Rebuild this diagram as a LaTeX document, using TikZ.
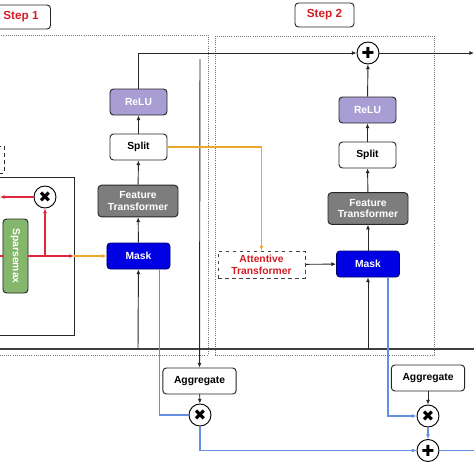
\documentclass[tikz,border=0pt]{standalone}
\usepackage{fontspec}
\setmainfont{Liberation Sans}
\newfontfamily\symfont{DejaVu Sans}
\usetikzlibrary{arrows.meta}

\definecolor{reluviolet}{RGB}{168,158,212}
\definecolor{ftgray}{RGB}{125,125,125}
\definecolor{maskblue}{RGB}{0,0,228}
\definecolor{sparsegreen}{RGB}{132,182,108}
\definecolor{stepred}{RGB}{212,28,36}
\definecolor{attorange}{RGB}{236,168,40}
\definecolor{aggblue}{RGB}{100,142,224}
\definecolor{sparsered}{RGB}{222,40,60}

\begin{document}
\begin{tikzpicture}[x=0.03cm,y=-0.03cm]

\tikzset{
  block/.style={draw=black!85,line width=0.8pt,rounded corners=3pt,align=center,
    inner sep=1pt,font=\fontsize{8.8}{10}\selectfont\bfseries},
  relubox/.style={block,fill=reluviolet,text=white,minimum width=1.71cm,minimum height=0.78cm},
  splitbox/.style={block,fill=white,minimum width=1.71cm,minimum height=0.78cm},
  ftbox/.style={block,fill=ftgray,text=white,minimum width=2.4cm,minimum height=0.95cm},
  maskbox/.style={block,draw=blue!40!black,fill=maskblue,text=white,minimum width=1.89cm,minimum height=0.78cm},
  aggbox/.style={block,fill=white,minimum width=2.2cm,minimum height=0.78cm},
  stepbox/.style={block,text=stepred,font=\fontsize{10}{12}\selectfont\bfseries,minimum width=1.77cm,minimum height=0.72cm},
  attbox/.style={draw=black!75,line width=0.8pt,dashed,align=center,inner sep=1pt,text=stepred,
    font=\fontsize{8.8}{10}\selectfont\bfseries,minimum width=2.61cm,minimum height=0.81cm},
  sparsebox/.style={block,fill=sparsegreen,text=white,rotate=-90,minimum width=2.22cm,minimum height=0.75cm},
  opnode/.style={draw,circle,line width=0.8pt,fill=white,minimum size=0.66cm,inner sep=0pt,
    font=\symfont\fontsize{13}{13}\selectfont},
  stepframe/.style={draw=black!55,densely dotted,line width=0.8pt},
  line/.style={draw=black!85,line width=0.8pt},
  arr/.style={line,-{Latex[length=4pt,width=3.5pt]}},
  colline/.style={line width=1pt},
}

\clip (0,0) rectangle (474,474);

% step frames
\draw[stepframe] (-5,35) -- (208,35) -- (208,355) -- (-5,355);
\draw[stepframe] (215,36) rectangle (434,355);

\node[stepbox] (step1) at (21,17) {Step 1};
\node[stepbox] (step2) at (324.5,15) {Step 2};

% step 1
\node[relubox] (relu1) at (138.5,102) {ReLU};
\node[splitbox] (split1) at (138.5,147) {Split};
\node[ftbox] (ft1) at (138,201) {Feature\\Transformer};
\node[maskbox] (mask1) at (138.5,256) {Mask};

% step 2
\node[opnode] (plus1) at (368,53) {✚};
\node[relubox] (relu2) at (367.5,110) {ReLU};
\node[splitbox] (split2) at (367.5,155) {Split};
\node[ftbox] (ft2) at (368,208.5) {Feature\\Transformer};
\node[maskbox] (mask2) at (368,264) {Mask};
\node[attbox] (att2) at (261.5,264.5) {Attentive\\Transformer};

% aggregation
\node[aggbox] (agg1) at (199.5,381) {Aggregate};
\node[aggbox] (agg2) at (428,378) {Aggregate};
\node[opnode] (mult1) at (200,415) {✖};
\node[opnode] (mult2) at (428,416) {✖};
\node[opnode] (plus2) at (428,450.5) {✚};

% attentive transformer of step 1
\draw[line,dashed] (-30,146) rectangle (4,173);
\draw[line] (-30,177) rectangle (74,335);
\node[sparsebox] (sparse) at (15.5,256) {Sparsemax};
\node[opnode] (multL) at (45,197) {✖};
\coordinate (redin) at (-5,256);
\coordinate (redout) at (74,256);
\coordinate (redsplit) at (45,256);
\coordinate (priorout) at (0,197);

\draw[line,colline,draw=sparsered] (redin) -- (sparse.south);
\draw[arr,colline,draw=sparsered] (sparse.north) -- (redout);
\draw[arr,colline,draw=sparsered] (redsplit) -- (multL);
\draw[arr,colline,draw=sparsered] (multL) -- (priorout);
\draw[arr,colline,draw=attorange] (redout) -- (mask1);

% main flow
\coordinate (in1) at (138,349);
\coordinate (in2) at (368,349);
\coordinate (outtop) at (474,53);
\coordinate (decin) at (200,59);
\draw[line,line width=1.2pt,draw=black!75] (0,349) -- (474,349);

\draw[arr] (in1) -- (mask1);
\draw[arr] (mask1) -- (ft1);
\draw[arr] (ft1) -- (split1);
\draw[arr] (split1) -- (relu1);
\draw[arr] (relu1.north) |- (plus1);
\draw[arr] (plus1) -- (outtop);
\draw[arr] (decin) -- (agg1);

\draw[arr,colline,draw=attorange] (split1.east) -| (att2.north);
\draw[arr] (att2) -- (mask2);

\draw[arr] (in2) -- (mask2);
\draw[arr] (mask2) -- (ft2);
\draw[arr] (ft2) -- (split2);
\draw[arr] (split2) -- (relu2);
\draw[arr] (relu2) -- (plus1);

% masks to aggregation
\draw[line,colline,draw=aggblue] (mask1.south east) ++(-11,0) |- (mult1.west);
\draw[arr] (agg1) -- (mult1);
\draw[arr,colline,draw=aggblue] (mult1.south) |- (plus2.west);
\draw[arr,colline,draw=aggblue] (mask2.south east) ++(-12,0) |- (mult2.west);
\draw[arr] (agg2) -- (mult2);
\draw[arr,colline,draw=aggblue] (mult2) -- (plus2);
\draw[line,colline,draw=aggblue] (plus2.east) -- (474,450.5);

\end{tikzpicture}
\end{document}
